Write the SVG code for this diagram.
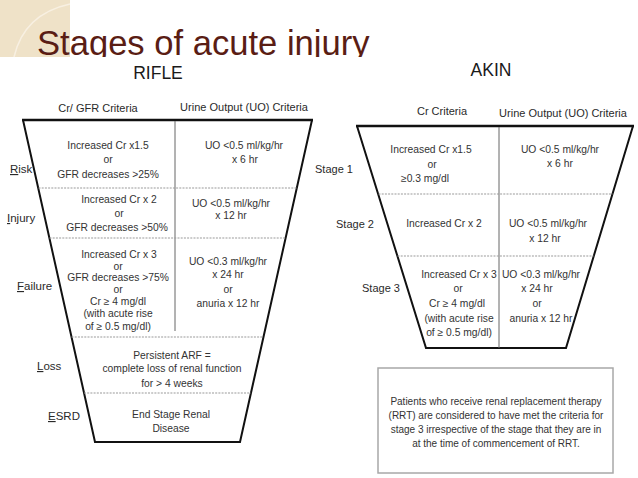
<svg xmlns="http://www.w3.org/2000/svg" width="638" height="478" viewBox="0 0 638 478">
<defs>
<clipPath id="titleClip"><rect x="0" y="0" width="638" height="57"/></clipPath>
<style>
text{font-family:"Liberation Sans",Arial,sans-serif;}
.title{font-size:34.6px;fill:#5a1d14;}
.big{font-size:17.5px;fill:#1a1a1a;text-anchor:middle;}
.hdr{font-size:11px;fill:#2a2a2a;text-anchor:middle;}
.lbl{font-size:11.5px;fill:#2a2a2a;}
.cell{font-size:10.3px;fill:#333;text-anchor:middle;}
.note{font-size:10px;fill:#333;text-anchor:middle;}
.edge{fill:none;stroke:#111;stroke-width:2;}
.topedge{fill:none;stroke:#111;stroke-width:2.5;}
.div{stroke:#666;stroke-width:1;}
.dash{stroke:#9a9a9a;stroke-width:1.2;stroke-dasharray:2 1.2;}
.u{text-decoration:underline;}
</style>
</defs>
<rect width="638" height="478" fill="#fff"/>
<g id="decor">
<rect x="0" y="0" width="70" height="57" fill="#efe2c8"/>
<path d="M14 57 Q24 14 70 4" fill="none" stroke="#f8f0e2" stroke-width="1.5"/>
</g>
<g id="title" clip-path="url(#titleClip)">
<text class="title" x="37" y="55">Stages of acute injury</text>
</g>
<g id="rifle">
<text class="big" x="158" y="79">RIFLE</text>
<text class="hdr" x="98" y="112">Cr/ GFR Criteria</text>
<text class="hdr" x="244" y="111">Urine Output (UO) Criteria</text>
<path class="edge" d="M23 120 L95 442 L240 442 L312 120"/>
<line class="topedge" x1="22" y1="120" x2="313" y2="120"/>
</g>
<g id="akin">
<text class="big" x="491" y="76">AKIN</text>
<text class="hdr" x="442" y="115">Cr Criteria</text>
<text class="hdr" x="563" y="117">Urine Output (UO) Criteria</text>
<path class="edge" d="M357 126 L426 348 L566 348 L633 126"/>
<line class="topedge" x1="356" y1="126" x2="634" y2="126"/>
</g>
<g id="connectors">
<line class="div" x1="175" y1="121" x2="175" y2="331"/>
<line class="dash" x1="38.5" y1="188" x2="296.5" y2="188"/>
<line class="dash" x1="49.5" y1="238" x2="285.5" y2="238"/>
<line class="dash" x1="71.5" y1="337" x2="263.5" y2="337"/>
<line class="dash" x1="84" y1="393" x2="251" y2="393"/>
<line class="div" x1="499" y1="127" x2="499" y2="348"/>
<line class="dash" x1="378.5" y1="194" x2="612.5" y2="194"/>
<line class="dash" x1="397.5" y1="256" x2="593.5" y2="256"/>
</g>
<g id="rifle-risk">
<text class="lbl" x="10" y="173"><tspan class="u">R</tspan>isk</text>
<text class="cell" x="108" y="149">Increased Cr x1.5</text>
<text class="cell" x="108" y="163">or</text>
<text class="cell" x="108" y="178">GFR decreases &gt;25%</text>
<text class="cell" x="244" y="149">UO &lt;0.5 ml/kg/hr</text>
<text class="cell" x="245" y="163">x 6 hr</text>
</g>
<g id="rifle-injury">
<text class="lbl" x="7" y="222"><tspan class="u">I</tspan>njury</text>
<text class="cell" x="119" y="203">Increased Cr x 2</text>
<text class="cell" x="119" y="217">or</text>
<text class="cell" x="117" y="231">GFR decreases &gt;50%</text>
<text class="cell" x="231" y="207">UO &lt;0.5 ml/kg/hr</text>
<text class="cell" x="231" y="219">x 12 hr</text>
</g>
<g id="rifle-failure">
<text class="lbl" x="17" y="290"><tspan class="u">F</tspan>ailure</text>
<text class="cell" x="119" y="258">Increased Cr x 3</text>
<text class="cell" x="118" y="270">or</text>
<text class="cell" x="118" y="281">GFR decreases &gt;75%</text>
<text class="cell" x="118" y="293">or</text>
<text class="cell" x="118" y="305">Cr ≥ 4 mg/dl</text>
<text class="cell" x="118" y="317">(with acute rise</text>
<text class="cell" x="118" y="330">of ≥ 0.5 mg/dl)</text>
<text class="cell" x="228" y="265">UO &lt;0.3 ml/kg/hr</text>
<text class="cell" x="228" y="278">x 24 hr</text>
<text class="cell" x="228" y="293">or</text>
<text class="cell" x="228" y="307">anuria x 12 hr</text>
</g>
<g id="rifle-loss">
<text class="lbl" x="37" y="370"><tspan class="u">L</tspan>oss</text>
<text class="cell" x="172" y="359">Persistent ARF =</text>
<text class="cell" x="172" y="372">complete loss of renal function</text>
<text class="cell" x="172" y="387">for &gt; 4 weeks</text>
</g>
<g id="rifle-esrd">
<text class="lbl" x="48" y="420"><tspan class="u">E</tspan>SRD</text>
<text class="cell" x="171" y="418">End Stage Renal</text>
<text class="cell" x="171" y="432">Disease</text>
</g>
<g id="akin-stage1">
<text class="lbl" x="315" y="173" style="font-size:11px">Stage 1</text>
<text class="cell" x="431" y="153">Increased Cr x1.5</text>
<text class="cell" x="432" y="168">or</text>
<text class="cell" x="425" y="182">≥0.3 mg/dl</text>
<text class="cell" x="560" y="153">UO &lt;0.5 ml/kg/hr</text>
<text class="cell" x="560" y="167">x 6 hr</text>
</g>
<g id="akin-stage2">
<text class="lbl" x="336" y="228" style="font-size:11px">Stage 2</text>
<text class="cell" x="444" y="227">Increased Cr x 2</text>
<text class="cell" x="548" y="227">UO &lt;0.5 ml/kg/hr</text>
<text class="cell" x="545" y="242">x 12 hr</text>
</g>
<g id="akin-stage3">
<text class="lbl" x="362" y="292" style="font-size:11px">Stage 3</text>
<text class="cell" x="459" y="278">Increased Cr x 3</text>
<text class="cell" x="458" y="292">or</text>
<text class="cell" x="457" y="307">Cr ≥ 4 mg/dl</text>
<text class="cell" x="459" y="322">(with acute rise</text>
<text class="cell" x="459" y="336">of ≥ 0.5 mg/dl)</text>
<text class="cell" x="541" y="278">UO &lt;0.3 ml/kg/hr</text>
<text class="cell" x="537" y="292">x 24 hr</text>
<text class="cell" x="537" y="307">or</text>
<text class="cell" x="541" y="322">anuria x 12 hr</text>
</g>
<g id="note">
<rect x="378" y="368" width="235" height="105" fill="#fff" stroke="#a8a8a8" stroke-width="1.5"/>
<text class="note" x="496" y="405">Patients who receive renal replacement therapy</text>
<text class="note" x="496" y="419">(RRT) are considered to have met the criteria for</text>
<text class="note" x="496" y="433">stage 3 irrespective of the stage that they are in</text>
<text class="note" x="496" y="447">at the time of commencement of RRT.</text>
</g>
</svg>
